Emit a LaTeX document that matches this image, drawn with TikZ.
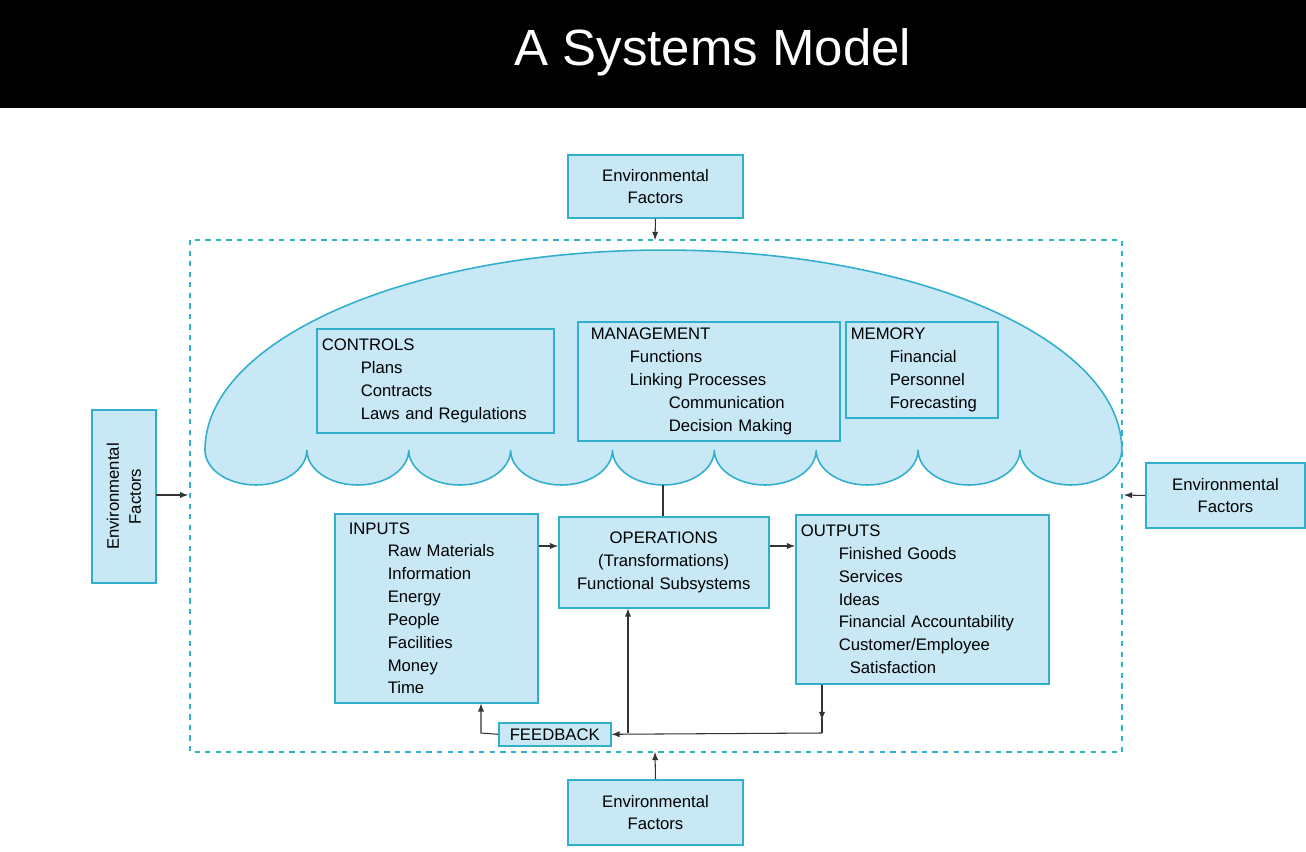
\documentclass[tikz,border=0pt]{standalone}
\usepackage{fontspec}
\setmainfont{Liberation Sans}
\definecolor{bfill}{RGB}{200,232,246}
\definecolor{bline}{RGB}{50,175,205}
\begin{document}
\begin{tikzpicture}[x=0.02cm,y=-0.02cm,
  box/.style={draw=bline,fill=bfill,line width=0.9pt,anchor=north west,inner xsep=0.1cm,inner ysep=0pt,align=left,font=\fontsize{9.5}{13}\selectfont},
  env/.style={draw=bline,fill=bfill,line width=0.9pt,align=center,font=\fontsize{9.5}{12.5}\selectfont,inner sep=0pt},
  arr/.style={-latex,line width=0.6pt,draw=black!80},
  ln/.style={line width=0.6pt,draw=black!80}]
\useasboundingbox (0,0) rectangle (1306,852);
\fill[black] (0,0) rectangle (1306,108);
\node[white,font=\fontsize{29}{32}\selectfont] (title) at (713,52) {A Systems Model};
\draw[bline,dashed,line width=0.9pt] (190,240) rectangle (1122,752);
% cloud
\draw[bline,fill=bfill,line width=0.9pt] (205,450) arc[start angle=180,end angle=0,x radius=9.17cm,y radius=4cm]
  \foreach \i in {1,...,9}{ arc[start angle=0,end angle=-180,x radius=1.0189cm,y radius=0.7cm] } -- cycle;
% boxes
\node[box,minimum width=4.74cm,minimum height=2.08cm,text width=4.54cm] (controls) at (316,328)
 {CONTROLS\\\hspace*{0.78cm}Plans\\\hspace*{0.78cm}Contracts\\\hspace*{0.78cm}Laws and Regulations};
\node[box,minimum width=4.92cm,minimum height=2.38cm,text width=4.72cm,inner xsep=0.26cm] (mgmt) at (577,321)
 {MANAGEMENT\\\hspace*{0.78cm}Functions\\\hspace*{0.78cm}Linking Processes\\\hspace*{1.56cm}Communication\\\hspace*{1.56cm}Decision Making};
\node[box,minimum width=3.04cm,minimum height=1.92cm,text width=2.84cm] (memory) at (845,321)
 {MEMORY\\\hspace*{0.78cm}Financial\\\hspace*{0.78cm}Personnel\\\hspace*{0.78cm}Forecasting};
\node[box,minimum width=3.78cm,minimum height=3.78cm,text width=3.5cm,inner xsep=0.28cm] (inputs) at (334,513)
 {INPUTS\\\hspace*{0.78cm}Raw Materials\\\hspace*{0.78cm}Information\\\hspace*{0.78cm}Energy\\\hspace*{0.78cm}People\\\hspace*{0.78cm}Facilities\\\hspace*{0.78cm}Money\\\hspace*{0.78cm}Time};
\node[box,minimum width=4.2cm,minimum height=1.82cm,align=center,text width=4cm] (ops) at (558,516)
 {OPERATIONS\\(Transformations)\\Functional Subsystems};
\node[box,minimum width=5.06cm,minimum height=3.38cm,text width=4.86cm] (outputs) at (795,514)
 {OUTPUTS\\\hspace*{0.76cm}Finished Goods\\\hspace*{0.76cm}Services\\\hspace*{0.76cm}Ideas\\\hspace*{0.76cm}Financial Accountability\\\hspace*{0.76cm}Customer/Employee\\\hspace*{0.98cm}Satisfaction};
\node[box,minimum width=2.24cm,minimum height=0.46cm,align=center,text width=2.04cm] (feedback) at (498,722) {FEEDBACK};
% environment
\node[env,minimum width=3.5cm,minimum height=1.26cm] (envT) at (655.5,186.5) {Environmental\\Factors};
\node[env,minimum width=3.5cm,minimum height=1.3cm] (envB) at (655.5,812.5) {Environmental\\Factors};
\node[env,minimum width=3.18cm,minimum height=1.3cm] (envR) at (1225.5,495.5) {Environmental\\Factors};
\node[env,minimum width=3.46cm,minimum height=1.28cm,rotate=90] (envL) at (124,496.5) {Environmental\\Factors};
\coordinate (dT) at (655,240); \coordinate (dB) at (655,752);
\coordinate (dL) at (188,495); \coordinate (dR) at (1124,495);
\draw[arr] (envT.south) -- (dT);
\draw[arr] (envB.north) -- (dB);
\draw[arr] (156,495) -- (dL);
\draw[arr] (envR.west) -- (dR);
% internal
\coordinate (cb) at (663,485);
\draw[ln] (cb) -- (ops.north -| cb);
\draw[arr] (inputs.east |- 0,546) -- (ops.west |- 0,546);
\draw[arr] (ops.east |- 0,546) -- (outputs.west |- 0,546);
\coordinate (oc) at (822,733);
\draw[arr] (outputs.south -| oc) -- (822,720);
\draw[ln] (822,718) -- (oc);
\draw[arr] (oc) -- (feedback.east);
\draw[arr] (628,733) -- (ops.south -| 628,0);
\draw[arr] (feedback.west) -- (481,733) -- (inputs.south -| 481,0);
\end{tikzpicture}
\end{document}
